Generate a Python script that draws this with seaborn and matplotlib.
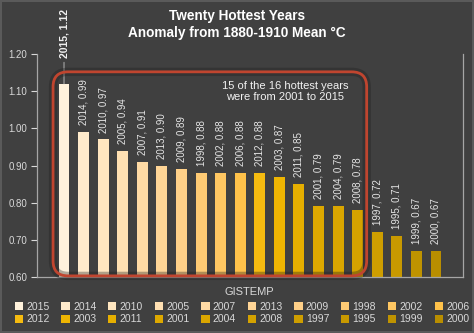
import matplotlib
matplotlib.use("Agg")
import matplotlib.pyplot as plt
from matplotlib.patches import FancyBboxPatch, Patch
from matplotlib.transforms import IdentityTransform
import seaborn as sns
import pandas as pd

years = ['2015', '2014', '2010', '2005', '2007', '2013', '2009', '1998', '2002', '2006',
         '2012', '2003', '2011', '2001', '2004', '2008', '1997', '1995', '1999', '2000']
anomalies = [1.12, 0.99, 0.97, 0.94, 0.91, 0.90, 0.89, 0.88, 0.88, 0.88,
             0.88, 0.87, 0.85, 0.79, 0.79, 0.78, 0.72, 0.71, 0.67, 0.67]
bar_colors = ['#FFF2DC', '#FFEBCC', '#FFE6C0', '#FFE0B2', '#FFDAA4', '#FFD596', '#FFD088',
              '#FFCB74', '#FFC762', '#FFC24A', '#F5BB10', '#EEB502', '#E6AF00', '#DEA900',
              '#DAA600', '#D4A200', '#CE9E00', '#C89900', '#BF9300', '#B98E00']
title_lines = ['Twenty Hottest Years', 'Anomaly from 1880-1910 Mean \u00b0C']
note_text = '15 of the 16 hottest years\nwere from 2001 to 2015'
xlabel = 'GISTEMP'

BG = '#404040'
TXT = '#D9D9D9'

df = pd.DataFrame({'year': years, 'anomaly': anomalies})
palette = dict(zip(years, bar_colors))

sns.set_theme(style='dark')
plt.rcParams['font.family'] = ['Liberation Sans', 'DejaVu Sans']

fig = plt.figure(figsize=(4.74, 3.33), dpi=100, facecolor=BG)
ax = fig.add_axes([37 / 474, 56 / 333, 426 / 474, 223 / 333])
ax.set_facecolor(BG)

sns.barplot(data=df, x='year', y='anomaly', hue='year', order=years, hue_order=years,
            palette=palette, width=0.56, legend=False, ax=ax, saturation=1, linewidth=0)

ax.set_xlim(-1.38, 20.38)
ax.set_ylim(0.60, 1.20)
yt = [0.60, 0.70, 0.80, 0.90, 1.00, 1.10, 1.20]
ax.set_yticks(yt)
ax.set_yticklabels([f'{v:.2f}' for v in yt])
ax.tick_params(axis='y', colors=TXT, labelsize=7, length=4, width=0.8, direction='out', pad=3, left=True)
ax.tick_params(axis='x', bottom=False, labelbottom=False)
ax.set_xlabel('')
ax.set_ylabel('')
ax.grid(False)
for side in ['left', 'bottom', 'right']:
    ax.spines[side].set_visible(True)
    ax.spines[side].set_color('#A6A6A6')
    ax.spines[side].set_linewidth(0.9)
ax.spines['top'].set_visible(False)

# value labels
for i, (yr, v) in enumerate(zip(years, anomalies)):
    if i == 0:
        ax.annotate(f'{yr}, {v:.2f}', xy=(i, v), xytext=(i, 1.19), rotation=90,
                    ha='center', va='bottom', fontsize=7.5, fontweight='bold', color='#F2F2F2',
                    annotation_clip=False,
                    arrowprops=dict(arrowstyle='-', color='#A6A6A6', lw=0.8, shrinkA=1, shrinkB=0))
    else:
        ax.annotate(f'{yr}, {v:.2f}', xy=(i, v), xytext=(0, 5), textcoords='offset points',
                    rotation=90, ha='center', va='bottom', fontsize=7, color='#E6E6E6')

# rounded highlight box around 2001-2015 group
(x0, y0) = ax.transData.transform((-0.56, 0.603))
(x1, y1) = ax.transData.transform((15.46, 1.152))
shadow = FancyBboxPatch((x0, y0), x1 - x0, y1 - y0,
                        boxstyle='round,pad=0,rounding_size=15', transform=IdentityTransform(),
                        fill=False, ec='#1E1E1E', lw=6, alpha=0.35, clip_on=False, zorder=4)
box = FancyBboxPatch((x0, y0), x1 - x0, y1 - y0,
                     boxstyle='round,pad=0,rounding_size=15', transform=IdentityTransform(),
                     fill=False, ec='#C0452F', lw=2, clip_on=False, zorder=5)
fig.add_artist(shadow)
fig.add_artist(box)

ax.text(11.28, 1.10, note_text, ha='center', va='center', fontsize=8, color='#F2F2F2',
        linespacing=1.1)

# title
fig.text(237 / 474, 1 - 16 / 333, title_lines[0], ha='center', va='center',
         fontsize=9.8, fontweight='bold', color='white')
fig.text(237 / 474, 1 - 33 / 333, title_lines[1], ha='center', va='center',
         fontsize=9.8, fontweight='bold', color='white')

fig.text(249 / 474, 1 - 292 / 333, xlabel, ha='center', va='center', fontsize=8, color=TXT)

# legend: two rows of ten, row-major order
handles = [Patch(facecolor=c, edgecolor='none') for c in bar_colors]
order = []
for k in range(10):
    order += [k, k + 10]
leg = fig.legend([handles[k] for k in order], [years[k] for k in order], ncol=10,
                 loc='center', bbox_to_anchor=(242 / 474, 1 - 313 / 333), frameon=False,
                 fontsize=7.5, handlelength=0.8, handleheight=0.8, handletextpad=0.3,
                 columnspacing=1.14, labelspacing=0.25, borderaxespad=0, borderpad=0)
for t in leg.get_texts():
    t.set_color(TXT)

fig.patch.set_edgecolor('#5A5A5A')
fig.patch.set_linewidth(1.5)
fig.savefig('out.png', dpi=100, facecolor=BG, edgecolor='#5A5A5A')
